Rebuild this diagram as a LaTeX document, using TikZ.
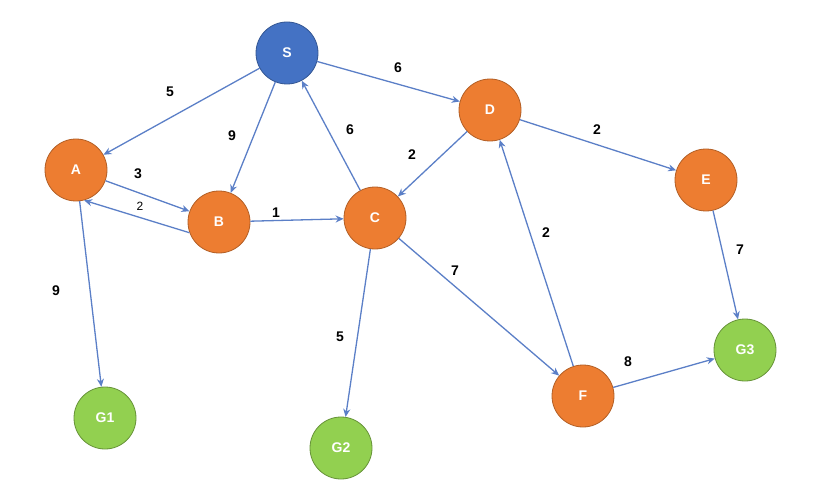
\documentclass[tikz,border=0pt]{standalone}
\usepackage{fontspec}
\setmainfont{Liberation Sans}
\usetikzlibrary{arrows.meta}
\definecolor{org}{HTML}{ED7D31}
\definecolor{blu}{HTML}{4472C4}
\definecolor{grn}{HTML}{92D050}
\definecolor{edg}{HTML}{5B7FC7}
\begin{document}
\begin{tikzpicture}[x=1pt,y=-1pt,
  vert/.style={circle,minimum size=62pt,inner sep=0pt,font=\bfseries\fontsize{14}{16}\selectfont,text=white,line width=0.8pt},
  ov/.style={vert,fill=org,draw=org!75!black},
  bv/.style={vert,fill=blu,draw=blu!75!black},
  gv/.style={vert,fill=grn,draw=grn!70!black},
  e/.style={-{Stealth[length=8pt,width=7pt]},draw=edg,line width=1.3pt},
  w/.style={font=\bfseries\fontsize{14}{16}\selectfont}]
\useasboundingbox (0,0) rectangle (814,500);
\node[bv] (S) at (287,53) {S};
\node[ov] (A) at (76,170) {A};
\node[ov] (B) at (219,222) {B};
\node[ov] (C) at (375,218) {C};
\node[ov] (D) at (490,110) {D};
\node[ov] (E) at (706,180) {E};
\node[ov] (F) at (583,396) {F};
\node[gv] (G1) at (105,418) {G1};
\node[gv] (G2) at (341,448) {G2};
\node[gv] (G3) at (745,350) {G3};
\draw[e] (S) -- (A);
\draw[e] (S) -- (B);
\draw[e] (C) -- (S);
\draw[e] (S) -- (D);
\draw[e] (D) -- (C);
\draw[e] (D) -- (E);
\draw[e] (A.-20) -- (B.160);
\draw[e] (B.200) -- (A.-75);
\draw[e] (B) -- (C);
\draw[e] (A) -- (G1);
\draw[e] (C) -- (G2);
\draw[e] (C) -- (F);
\draw[e] (F) -- (D);
\draw[e] (E) -- (G3);
\draw[e] (F) -- (G3);
\node[w] (l1) at (170,92) {5};
\node[w] (l2) at (232,136) {9};
\node[w] (l3) at (350,130) {6};
\node[w] (l4) at (398,68) {6};
\node[w] (l5) at (412,155) {2};
\node[w] (l6) at (597,130) {2};
\node[w] (l7) at (138,174) {3};
\node[font=\fontsize{12}{14}\selectfont] (l8) at (140,206) {2};
\node[w] (l9) at (276,213) {1};
\node[w] (l10) at (56,291) {9};
\node[w] (l11) at (340,337) {5};
\node[w] (l12) at (455,271) {7};
\node[w] (l13) at (546,233) {2};
\node[w] (l14) at (740,250) {7};
\node[w] (l15) at (628,362) {8};
\end{tikzpicture}
\end{document}
